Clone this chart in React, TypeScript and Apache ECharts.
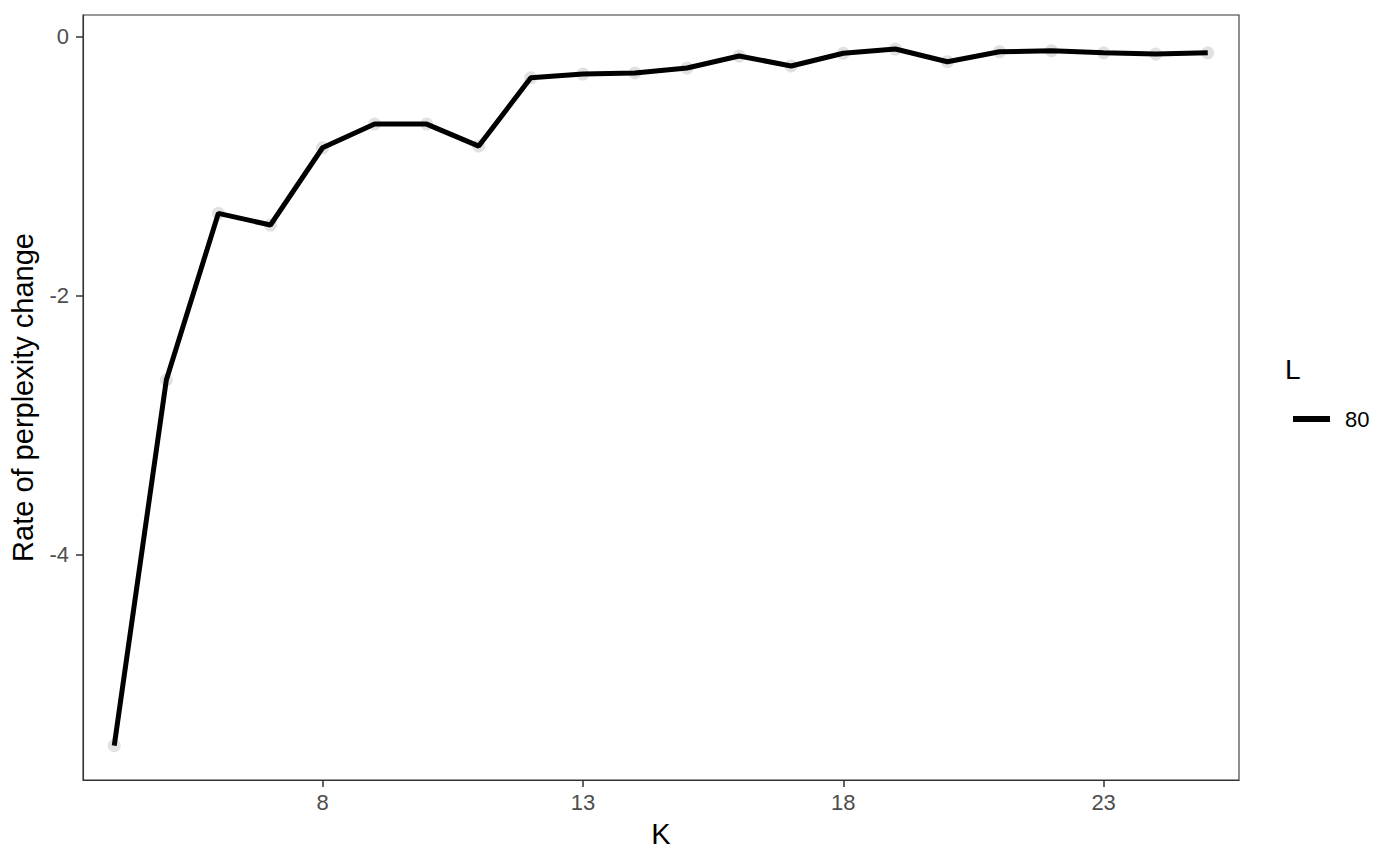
import React, { useEffect, useRef } from "react";
import * as echarts from "echarts";

const kValues = [4, 5, 6, 7, 8, 9, 10, 11, 12, 13, 14, 15, 16, 17, 18, 19, 20, 21, 22, 23, 24, 25];
const rateValues = [
  -5.479, -2.653, -1.365, -1.455, -0.858, -0.675, -0.675, -0.845, -0.317, -0.288, -0.28,
  -0.242, -0.149, -0.226, -0.128, -0.095, -0.193, -0.116, -0.108, -0.124, -0.134, -0.124,
];
const xTicks = [8, 13, 18, 23];
const yTicks = [0, -2, -4];
const seriesName = "80";
const legendTitle = "L";
const xTitle = "K";
const yTitle = "Rate of perplexity change";

const FONT = "'Liberation Sans', Arial, Helvetica, sans-serif";

export default function App() {
  const ref = useRef<HTMLDivElement>(null);
  useEffect(() => {
    if (!ref.current) return;
    const chart = echarts.init(ref.current, undefined, { renderer: "svg" });
    const pts = kValues.map((k, i) => [k, rateValues[i]]);
    chart.setOption({
      animation: false,
      backgroundColor: "#ffffff",
      textStyle: { fontFamily: FONT },
      grid: {
        left: 83,
        right: 161,
        top: 15,
        bottom: 85,
        show: true,
        borderColor: "#333333",
        borderWidth: 1.1,
        containLabel: false,
      },
      xAxis: {
        type: "value",
        min: 3.4,
        max: 25.6,
        name: xTitle,
        nameLocation: "middle",
        nameGap: 39,
        nameTextStyle: { fontSize: 29, color: "#000000", fontFamily: FONT },
        axisLine: { show: true, onZero: false, lineStyle: { color: "#333333", width: 1.1 } },
        splitLine: { show: false },
        axisTick: {
          show: true,
          length: 7,
          customValues: xTicks,
          lineStyle: { color: "#333333", width: 1.5 },
        },
        axisLabel: {
          customValues: xTicks,
          fontSize: 22,
          color: "#4d4d4d",
          margin: 11,
          fontFamily: FONT,
        },
      },
      yAxis: {
        type: "value",
        min: -5.744,
        max: 0.168,
        name: yTitle,
        nameLocation: "middle",
        nameGap: 46,
        nameRotate: 90,
        nameTextStyle: { fontSize: 29, color: "#000000", fontFamily: FONT },
        axisLine: { show: true, onZero: false, lineStyle: { color: "#333333", width: 1.1 } },
        splitLine: { show: false },
        axisTick: {
          show: true,
          length: 7,
          customValues: yTicks,
          lineStyle: { color: "#333333", width: 1.5 },
        },
        axisLabel: {
          customValues: yTicks,
          fontSize: 22,
          color: "#4d4d4d",
          margin: 14,
          fontFamily: FONT,
        },
      },
      legend: {
        data: [{ name: seriesName, icon: "rect" }],
        orient: "vertical",
        left: 1288,
        top: 403,
        itemWidth: 37,
        itemHeight: 6,
        itemGap: 10,
        textStyle: { fontSize: 22, color: "#000000", fontFamily: FONT, padding: [0, 0, 0, 10] },
      },
      graphic: [
        {
          type: "text",
          left: 1285,
          top: 355,
          style: { text: legendTitle, fontSize: 28, fill: "#000000", fontFamily: FONT },
        },
      ],
      series: [
        {
          name: "points",
          type: "scatter",
          data: pts,
          symbolSize: 13,
          itemStyle: { color: "#d9d9d9" },
          z: 1,
          silent: true,
        },
        {
          name: seriesName,
          type: "line",
          data: pts,
          showSymbol: false,
          symbol: "none",
          lineStyle: { color: "#000000", width: 5 },
          itemStyle: { color: "#000000" },
          z: 3,
        },
      ],
    });
    return () => chart.dispose();
  }, []);
  return (
    <div
      ref={ref}
      style={{ position: "fixed", left: 0, top: 0, width: 1400, height: 865, background: "#fff" }}
    />
  );
}
